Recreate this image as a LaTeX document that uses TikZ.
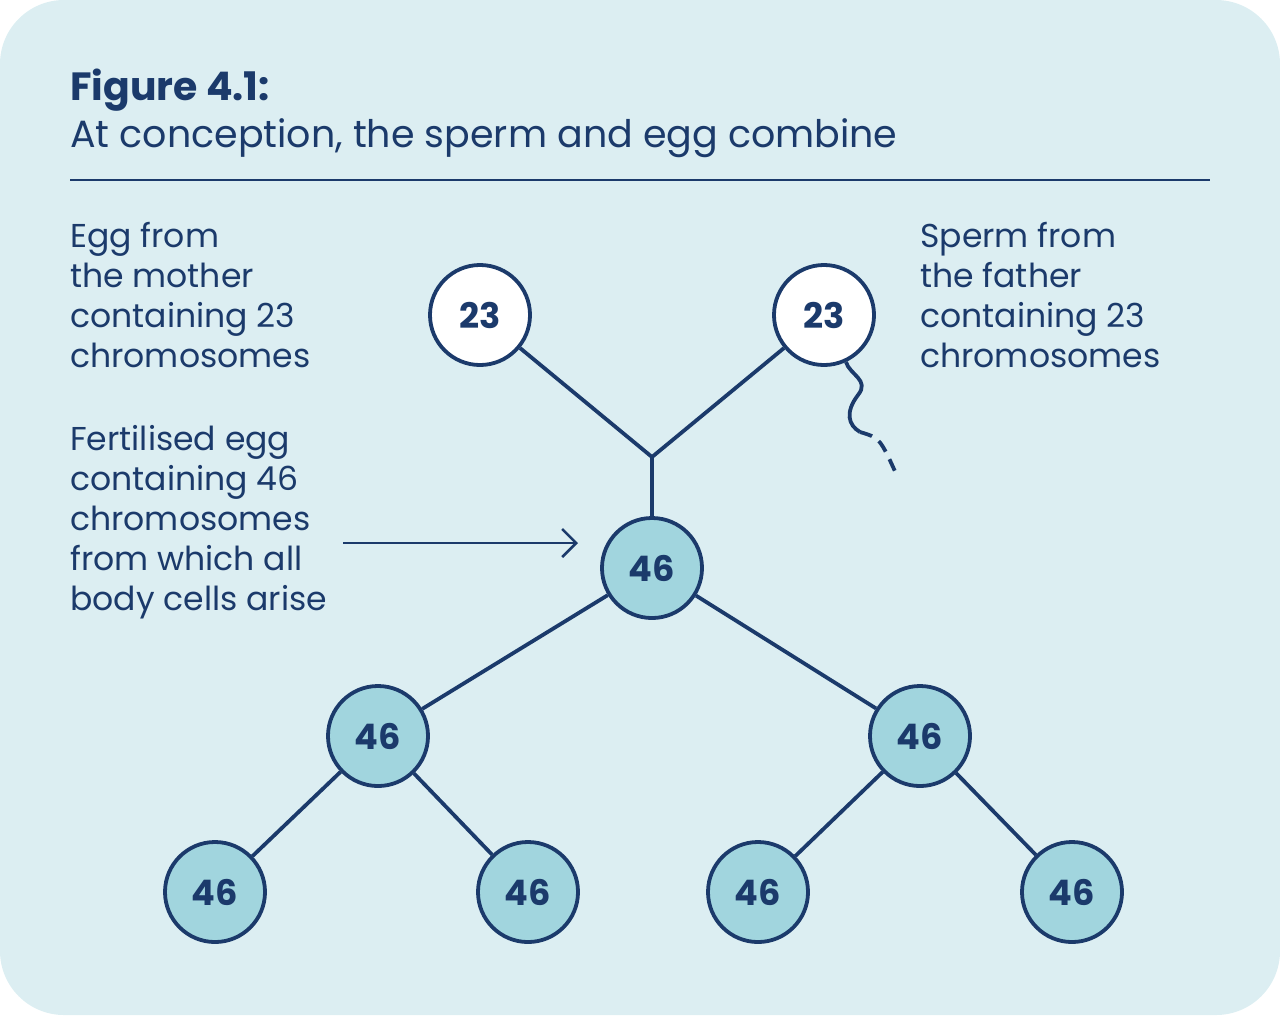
\documentclass[tikz,border=0pt]{standalone}
\usepackage{fontspec}
\setmainfont{Poppins}
\usetikzlibrary{positioning,arrows.meta}
\definecolor{MyNavy}{RGB}{27, 58, 107}
\definecolor{MyTeal}{RGB}{161, 213, 222}
\definecolor{MyBack}{RGB}{220, 238, 242}
\newcommand{\lw}{2.7pt}
\begin{document}
\begin{tikzpicture}[x=0.025cm, y=-0.025cm,
  cell/.style={circle, draw=MyNavy, line width=\lw, fill=MyTeal, minimum size=2.5cm,
    inner sep=0pt, text=MyNavy, font=\fontsize{25}{28}\selectfont\bfseries},
  gamete/.style={cell, fill=white},
  link/.style={draw=MyNavy, line width=\lw},
  caption/.style={anchor=north west, align=left, text=MyNavy, inner sep=0pt,
    font=\fontsize{23.5}{28.5}\selectfont}]
  \fill[MyBack, rounded corners=1.6cm] (0,0) rectangle (1280,1015);
  \useasboundingbox (0,0) rectangle (1280,1015);
  \node[anchor=west, text=MyNavy, inner sep=0pt, font=\fontsize{28}{30}\selectfont\bfseries] (title) at (70,90) {Figure 4.1:};
  \node[anchor=west, text=MyNavy, inner sep=0pt, font=\fontsize{27}{30}\selectfont] (sub) at (70,138) {At conception, the sperm and egg combine};
  \coordinate (rl) at (70,180);
  \coordinate (rr) at (1210,180);
  \draw[MyNavy, line width=1pt] (rl) -- (rr);

  \node[caption] (egg txt) at (70,222) {Egg from\\the mother\\containing 23\\chromosomes};
  \node[caption] (sperm txt) at (920,222) {Sperm from\\the father\\containing 23\\chromosomes};
  \node[caption] (zyg txt) at (70,425) {Fertilised egg\\containing 46\\chromosomes\\from which all\\body cells arise};

  \node[gamete] (egg) at (480,315) {23};
  \node[gamete] (sperm) at (824,315) {23};
  \coordinate (join) at (652,457);
  \node[cell] (zyg) at (652,568) {46};
  \node[cell] (l1) at (378,736) {46};
  \node[cell] (r1) at (920,736) {46};
  \node[cell] (ll) at (215,892) {46};
  \node[cell] (lr) at (528,892) {46};
  \node[cell] (rl2) at (758,892) {46};
  \node[cell] (rr2) at (1072,892) {46};

  \draw[link] (egg) -- (join) -- (sperm);
  \draw[link] (join) -- (zyg);
  \draw[link] (zyg) -- (l1);
  \draw[link] (zyg) -- (r1);
  \draw[link] (l1) -- (ll);
  \draw[link] (l1) -- (lr);
  \draw[link] (r1) -- (rl2);
  \draw[link] (r1) -- (rr2);

  % tail of the sperm
  \coordinate (tail a) at (860,432);
  \coordinate (tail b) at (898,478);
  \draw[link] (sperm.-65) .. controls (850,375) and (870,380) .. (858,395)
    .. controls (845,412) and (848,425) .. (tail a);
  \draw[link, dashed, dash pattern=on 9pt off 6pt] (tail a) .. controls (880,438) .. (tail b);

  \coordinate (arr) at (343,543);
  \draw[link, line width=1.8pt, -{Straight Barb[length=10pt, width=20pt]}] (arr) -- (578,543);
\end{tikzpicture}
\end{document}
